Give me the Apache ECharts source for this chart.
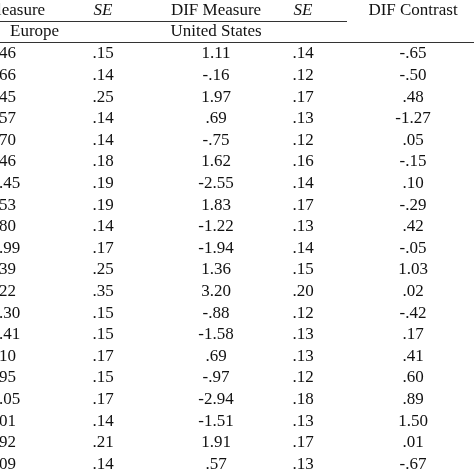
<!DOCTYPE html>
<html><head><meta charset="utf-8"><script src="https://cdn.jsdelivr.net/npm/echarts@6/dist/echarts.min.js"></script>
<style>html,body{margin:0;padding:0;background:#fff}#c{width:474px;height:474px}</style></head>
<body><div id="c"></div><script>
const euMeasure=["46","66","45","57","70","46",".45","53","80",".99","39","22",".30",".41","10","95",".05","01","92","09"];
const euSE=[".15",".14",".25",".14",".14",".18",".19",".19",".14",".17",".25",".35",".15",".15",".17",".15",".17",".14",".21",".14"];
const usMeasure=["1.11","-.16","1.97",".69","-.75","1.62","-2.55","1.83","-1.22","-1.94","1.36","3.20","-.88","-1.58",".69","-.97","-2.94","-1.51","1.91",".57"];
const usSE=[".14",".12",".17",".13",".12",".16",".14",".17",".13",".14",".15",".20",".12",".13",".13",".12",".18",".13",".17",".13"];
const contrast=["-.65","-.50",".48","-1.27",".05","-.15",".10","-.29",".42","-.05","1.03",".02","-.42",".17",".41",".60",".89","1.50",".01","-.67"];
const font='"Liberation Serif","DejaVu Serif",serif';
const g=[];
function t(x,y,s,align,italic){g.push({type:'text',x:x,y:y,style:{text:s,font:(italic?'italic ':'')+'17px '+font,fill:'#111',textAlign:align||'center',textVerticalAlign:'middle'}});}
t(-3,11,'leasure','left');t(103,11,'SE','center',true);t(216,11,'DIF Measure');t(303,11,'SE','center',true);t(413,11,'DIF Contrast');
t(10,32,'Europe','left');t(216,32,'United States');
g.push({type:'line',shape:{x1:0,y1:21.5,x2:347,y2:21.5},style:{stroke:'#333',lineWidth:1}});
g.push({type:'line',shape:{x1:0,y1:42.5,x2:474,y2:42.5},style:{stroke:'#333',lineWidth:1}});
for(let i=0;i<euSE.length;i++){const y=54+i*21.6;
 t(-1,y,euMeasure[i],'left');t(103,y,euSE[i]);t(216,y,usMeasure[i]);t(303,y,usSE[i]);t(413,y,contrast[i]);}
const ch=echarts.init(document.getElementById('c'));
ch.setOption({animation:false,graphic:g});
</script></body></html>
